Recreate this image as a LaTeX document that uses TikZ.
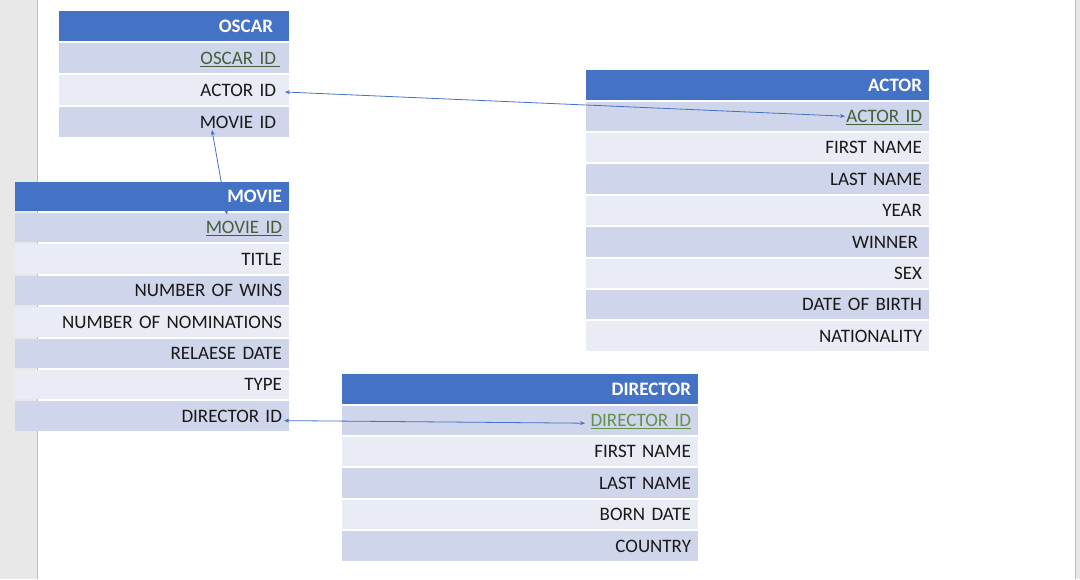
\documentclass[tikz,border=0pt]{standalone}
\usepackage{fontspec}
\setmainfont{Carlito}
\usepackage{tikz}
\usetikzlibrary{positioning}
\usetikzlibrary{arrows.meta}

\definecolor{hdblue}{HTML}{4472C4}
\definecolor{rowdark}{HTML}{CFD5EA}
\definecolor{rowlight}{HTML}{E9EBF5}
\definecolor{keygreen}{RGB}{68,95,58}
\definecolor{keylight}{RGB}{100,145,80}
\definecolor{lnblue}{HTML}{4472C4}
\definecolor{margin}{HTML}{E8E8E8}

\begin{document}
\begin{tikzpicture}[x=1pt,y=-1pt,
            node distance=2pt,
            head/.style={fill=hdblue, text=white, font=\fontsize{19}{23}\selectfont\bfseries,
            minimum height=29.5pt, inner ysep=0pt, inner xsep=7pt, outer sep=0pt,
            text height=12.5pt, text depth=0pt, align=right, text width=#1},
            dark/.style={fill=rowdark, text=black!90, font=\fontsize{19}{23}\selectfont,
            minimum height=29.4pt, inner ysep=0pt, inner xsep=7pt, outer sep=0pt,
            text height=12.5pt, text depth=0pt, align=right, text width=#1},
            light/.style={dark=#1, fill=rowlight},
            link/.style={draw=lnblue, line width=0.8pt,
            {Stealth[length=5pt,width=4pt]}-{Stealth[length=5pt,width=4pt]}}]
        % page
        \useasboundingbox (0,0) rectangle (1080,579);
        \fill[white] (0,0) rectangle (1080,579);
        \fill[margin] (0,0) rectangle (37,579);
        \draw[black!25] (37,0) -- (37,579);
        \fill[margin] (1075,0) rectangle (1080,579);
        \draw[black!25] (1075,0) -- (1075,579);

        % OSCAR
        \node[head=212pt, anchor=north west, inner xsep=9pt, minimum height=30pt] (oscar) at (59,11) {OSCAR\kern7pt};
        \node[dark=212pt, inner xsep=9pt, minimum height=30pt] (oscar-id) [below=of oscar] {\textcolor{keygreen}{\underline{OSCAR ID\kern4pt}}};
        \node[light=212pt, inner xsep=9pt, minimum height=30pt] (oscar-actor) [below=of oscar-id] {ACTOR ID\kern4pt};
        \node[dark=212pt, inner xsep=9pt, minimum height=30pt] (oscar-movie) [below=of oscar-actor] {MOVIE ID\kern4pt};

        % MOVIE
        \node[head=260pt, anchor=north west] (movie) at (15,181.5) {MOVIE};
        \node[dark=260pt] (movie-id) [below=of movie] {\textcolor{keygreen}{\underline{MOVIE ID}}};
        \node[light=260pt] (movie-title) [below=of movie-id] {TITLE};
        \node[dark=260pt] (movie-wins) [below=of movie-title] {NUMBER OF WINS};
        \node[light=260pt] (movie-nom) [below=of movie-wins] {NUMBER OF NOMINATIONS};
        \node[dark=260pt] (movie-date) [below=of movie-nom] {RELAESE DATE};
        \node[light=260pt] (movie-type) [below=of movie-date] {TYPE};
        \node[dark=260pt] (movie-dir) [below=of movie-type] {DIRECTOR ID};

        % ACTOR
        \node[head=329pt, anchor=north west] (actor) at (586,70) {ACTOR};
        \node[dark=329pt] (actor-id) [below=of actor] {\textcolor{keygreen}{\underline{ACTOR ID}}};
        \node[light=329pt] (actor-first) [below=of actor-id] {FIRST NAME};
        \node[dark=329pt] (actor-last) [below=of actor-first] {LAST NAME};
        \node[light=329pt] (actor-year) [below=of actor-last] {YEAR};
        \node[dark=329pt] (actor-win) [below=of actor-year] {WINNER\kern4pt};
        \node[light=329pt] (actor-sex) [below=of actor-win] {SEX};
        \node[dark=329pt] (actor-birth) [below=of actor-sex] {DATE OF BIRTH};
        \node[light=329pt] (actor-nat) [below=of actor-birth] {NATIONALITY};

        % DIRECTOR
        \node[head=342pt, anchor=north west] (director) at (342,374) {DIRECTOR};
        \node[dark=342pt] (director-id) [below=of director] {\textcolor{keylight}{\underline{DIRECTOR ID}}};
        \node[light=342pt] (director-first) [below=of director-id] {FIRST NAME};
        \node[dark=342pt] (director-last) [below=of director-first] {LAST NAME};
        \node[light=342pt] (director-born) [below=of director-last] {BORN DATE};
        \node[dark=342pt] (director-country) [below=of director-born] {COUNTRY};

        % links
        \draw[link] ([xshift=-4pt,yshift=-2pt]oscar-actor.east) -- ([xshift=-84pt]actor-id.east);
        \draw[link] ([xshift=-77pt,yshift=-8pt]oscar-movie.east) -- ([xshift=-62pt,yshift=-1.5pt]movie-id.north east);
        \draw[link] ([xshift=-5pt,yshift=-4.5pt]movie-dir.east) -- ([xshift=-113pt,yshift=-3pt]director-id.east);
    \end{tikzpicture}
\end{document}
